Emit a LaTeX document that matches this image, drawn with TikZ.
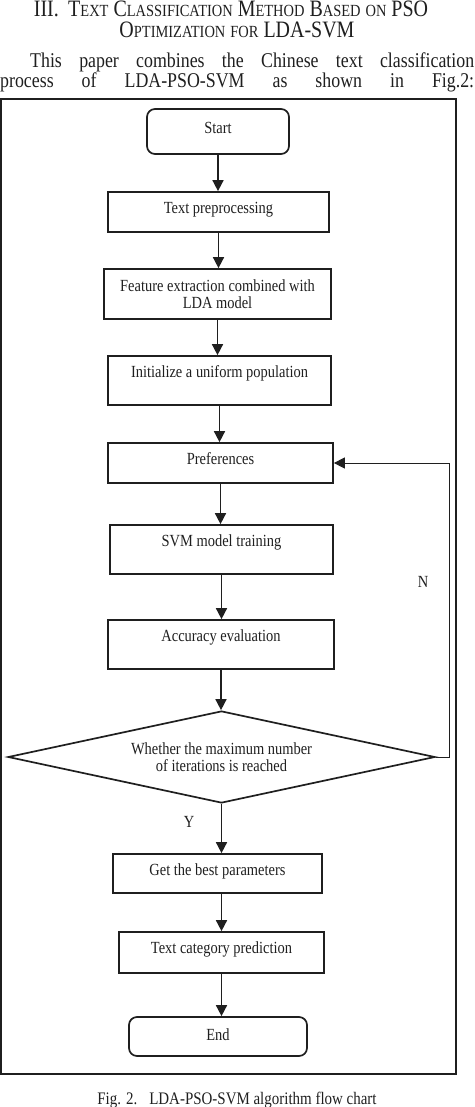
\documentclass[tikz,border=0pt]{standalone}
\usepackage{fontspec}
\setmainfont[FakeStretch=0.85]{Liberation Serif}
\usetikzlibrary{shapes.geometric,arrows.meta,positioning}

\definecolor{ink}{gray}{0.12}
\newcommand\smcap[1]{{\fontsize{17}{17}\selectfont #1}}

\tikzset{
  base/.style={draw=ink, line width=1.7pt, inner sep=0pt, text=ink, font=\fontsize{17}{16.7}\selectfont},
  proc/.style={base, text height=21.5pt},
  term/.style={proc, rounded corners=8pt},
  dec/.style={base, diamond, aspect=4.64, align=center},
  flow/.style={draw=ink, line width=1.6pt, -{Triangle[length=11pt,width=11pt]}},
  txt/.style={inner sep=0pt, text=ink},
}

\begin{document}
\begin{tikzpicture}[x=1pt,y=-1pt]
    \useasboundingbox (0,0) rectangle (474,1107);

    % Heading and text above the figure
    \node[txt, anchor=base, text height=16pt, text depth=0pt, font=\fontsize{23.5}{23.5}\selectfont] (head1) at (231,16.5)
        {III.\hspace{0.4em}T\smcap{EXT} C\smcap{LASSIFICATION} M\smcap{ETHOD} B\smcap{ASED} \smcap{ON} PSO};
    \node[txt, anchor=base, text height=16pt, text depth=0pt, font=\fontsize{23.5}{23.5}\selectfont] (head2) at (237,38)
        {O\smcap{PTIMIZATION} \smcap{FOR} LDA-SVM};
    \node[txt, anchor=base west, font=\fontsize{21}{19}\selectfont] (para1) at (30,68)
        {\makebox[444pt][s]{This paper combines the Chinese text classification}};
    \node[txt, anchor=base west, font=\fontsize{21}{19}\selectfont] (para2) at (0,88)
        {\makebox[474pt][s]{process of LDA-PSO-SVM as shown in Fig.2:}};

    % Frame
    \draw[ink, line width=2.4pt] (1.2,99) rectangle (456,1074);

    % Flow chart
    \node[term, text height=25pt, text depth=20pt, minimum width=142pt] (start) at (218,131.5) {Start};
    \node[proc, text depth=18.5pt, minimum width=221pt] (prep) at (218.5,212) {Text preprocessing};
    \node[base, align=center, minimum width=227pt, minimum height=50pt] (feat) at (217.5,294)
        {Feature extraction combined with\\LDA model};
    \node[proc, text depth=27.5pt, minimum width=223pt] (init) at (219.5,380.5) {Initialize a uniform population};
    \node[proc, text depth=18.5pt, minimum width=225pt] (pref) at (220.5,463) {Preferences};
    \node[proc, text depth=27.5pt, minimum width=223pt] (svm) at (221.5,549.5) {SVM model training};
    \node[proc, text depth=27.5pt, minimum width=226pt] (acc) at (221,644.5) {Accuracy evaluation};
    \node[dec, minimum width=427pt, minimum height=92pt] (iter) at (221.5,757)
        {Whether the maximum number\\of iterations is reached};
    \node[proc, text depth=17.5pt, minimum width=209pt] (best) at (217.5,873.5) {Get the best parameters};
    \node[proc, text depth=19.5pt, minimum width=205pt] (pred) at (221.5,952.5) {Text category prediction};
    \node[term, text height=23pt, text depth=16pt, minimum width=178pt] (end) at (218,1036.5) {End};

    % Arrows
    \draw[flow] (start.south) -- (start.south |- prep.north);
    \draw[flow] (prep.south) -- (prep.south |- feat.north);
    \draw[flow] (feat.south) -- (feat.south |- init.north);
    \draw[flow] (init.south) -- (init.south |- pref.north);
    \draw[flow] (pref.south) -- (pref.south |- svm.north);
    \draw[flow] (svm.south) -- (svm.south |- acc.north);
    \draw[flow] (acc.south) -- (acc.south |- iter.north);
    \draw[flow] (iter.south) -- (iter.south |- best.north);
    \draw[flow] (best.south -| iter.south) -- (pred.north -| iter.south);
    \draw[flow] (pred.south) -- (pred.south |- end.north);

    % Loop back
    \draw[flow, line width=1pt] (iter.east) -- ++(14,0) |- (pref.east);
    \node[txt, font=\fontsize{17}{17}\selectfont] (no) at (423,582) {N};
    \node[txt, font=\fontsize{17}{17}\selectfont] (yes) at (189,822) {Y};

    % Caption
    \node[txt, anchor=base, font=\fontsize{17.6}{17.6}\selectfont] (cap) at (237,1104)
        {Fig. 2.\hspace{12pt}LDA-PSO-SVM algorithm flow chart};
\end{tikzpicture}
\end{document}
